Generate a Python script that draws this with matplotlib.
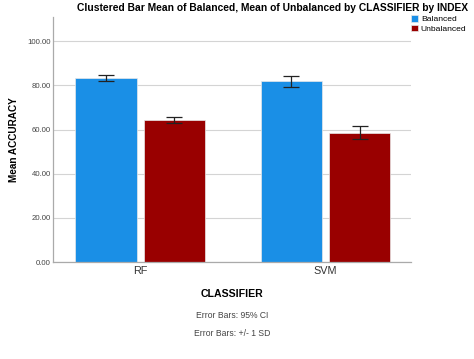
import matplotlib.pyplot as plt
import numpy as np

plt.rcParams['font.family'] = ['Liberation Sans', 'DejaVu Sans']

# data
classifiers = ["RF", "SVM"]
series = ["Balanced", "Unbalanced"]
balanced = [83.3, 81.8]
balanced_err = [1.4, 2.5]
unbalanced = [64.3, 58.6]
unbalanced_err = [1.4, 2.8]
y_ticks = [0, 20, 40, 60, 80, 100]

BLUE = "#1a8fe6"
RED = "#990000"

fig = plt.figure(figsize=(4.74, 3.59), dpi=100)
ax = fig.add_axes([0.1118, 0.270, 0.755, 0.683])

x = np.arange(len(classifiers))
w = 0.33
off = 0.184

ax.bar(x - off, balanced, w, color=BLUE, edgecolor="#e8e8e8", linewidth=0.5,
       label=series[0], zorder=2)
ax.bar(x + off, unbalanced, w, color=RED, edgecolor="#e8e8e8", linewidth=0.5,
       label=series[1], zorder=2)
ax.errorbar(x - off, balanced, yerr=balanced_err, fmt="none", ecolor="#222222",
            elinewidth=0.9, capsize=5.5, capthick=0.9, zorder=3)
ax.errorbar(x + off, unbalanced, yerr=unbalanced_err, fmt="none", ecolor="#222222",
            elinewidth=0.9, capsize=5.5, capthick=0.9, zorder=3)

ax.set_xlim(-0.47, 1.46)
ax.set_ylim(0, 111)
ax.set_yticks(y_ticks)
ax.set_yticklabels(["%.2f" % v for v in y_ticks], fontsize=5.6, color="#444444")
ax.set_xticks(x)
ax.set_xticklabels(classifiers, fontsize=7.8, color="#333333")
ax.tick_params(axis="both", length=0, pad=3)
ax.tick_params(axis="y", pad=1.5)
ax.grid(axis="y", color="#d4d4d4", linewidth=0.8, zorder=0)

for s in ["top", "right"]:
    ax.spines[s].set_visible(False)
for s in ["left", "bottom"]:
    ax.spines[s].set_color("#aaaaaa")
    ax.spines[s].set_linewidth(0.9)

ax.set_ylabel("Mean ACCURACY", fontsize=7.2, fontweight="bold", labelpad=6)

fig.text(0.576, 0.977, "Clustered Bar Mean of Balanced, Mean of Unbalanced by CLASSIFIER by INDEX",
         ha="center", va="center", fontsize=7.4, fontweight="bold")
fig.text(0.49, 0.181, "CLASSIFIER", ha="center", va="center",
         fontsize=7.6, fontweight="bold")
fig.text(0.49, 0.120, "Error Bars: 95% CI", ha="center", va="center",
         fontsize=6.2, color="#444444")
fig.text(0.49, 0.070, "Error Bars: +/- 1 SD", ha="center", va="center",
         fontsize=6.2, color="#444444")

leg = fig.legend(loc="upper left", bbox_to_anchor=(0.868, 0.958), frameon=False,
                 fontsize=6.1, handlelength=0.8, handleheight=0.8,
                 handletextpad=0.3, labelspacing=0.15, borderaxespad=0, borderpad=0)

fig.savefig("out.png", dpi=100)
